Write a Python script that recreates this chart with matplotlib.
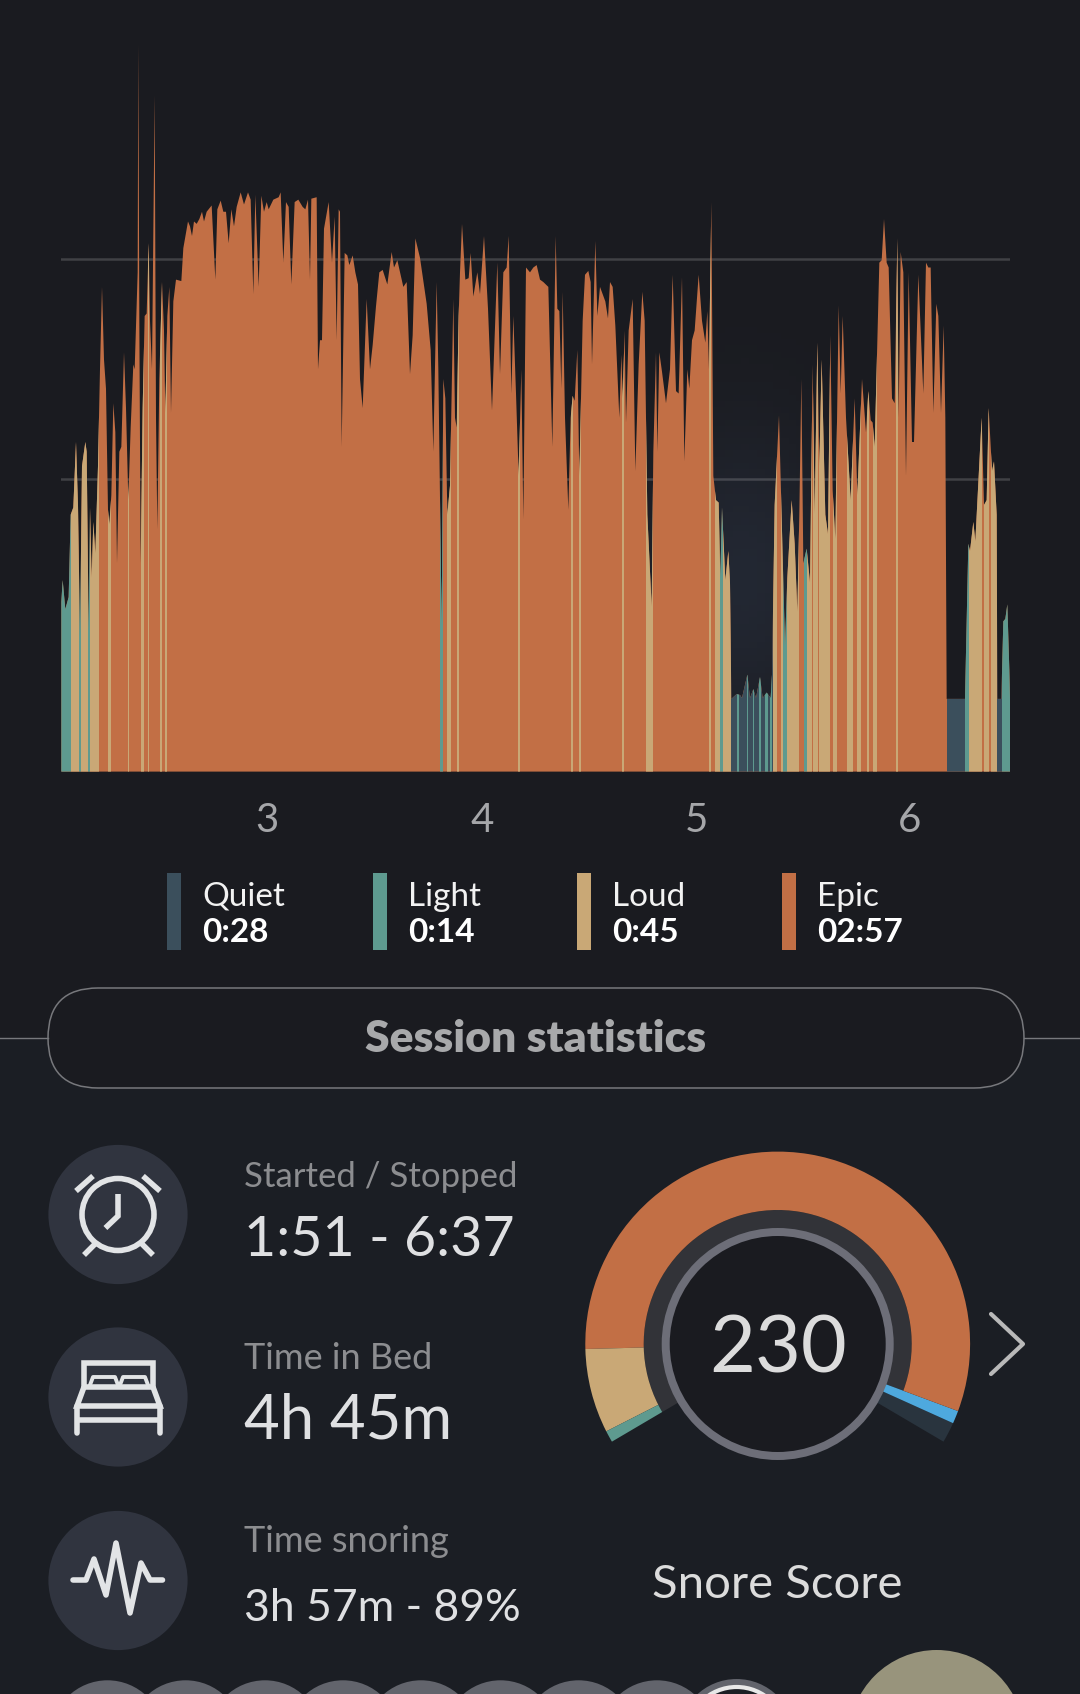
#!/usr/bin/env python3
"""Snore session screen: loudness chart, legend, session statistics and score gauge."""

import numpy as np
import matplotlib
matplotlib.use('Agg')
import matplotlib.pyplot as plt
from matplotlib.patches import Circle, Wedge, Rectangle, FancyBboxPatch

plt.rcParams['font.family'] = ['Lato', 'DejaVu Sans']

W, H = 1080, 1694

BG_TOP = '#1a1b20'
BG_BOTTOM = '#1b1e24'
QUIET = '#3b4f5c'
LIGHT = '#5e9a8f'
LOUD = '#c9a876'
EPIC = '#c26f45'
COLORS = {'Q': QUIET, 'L': LIGHT, 'D': LOUD}

# chart scale: sample columns, top = distance below chart top
CHART_TOP = 1530
SPLIT = 1500

left_x = [64, 68, 76, 86, 92, 100, 108, 114, 120, 126, 136, 140, 146, 150, 155, 160, 166, 174, 180, 186,
          192, 198, 204, 208, 214, 220, 226, 231, 238, 244, 252, 258, 265, 272, 280, 284, 293, 295, 298, 302,
          308, 314, 320, 326, 330, 336, 344, 348, 352, 358, 366, 372, 376, 382, 388, 393, 400, 408, 424, 430,
          444, 450, 456, 462, 470, 478, 486, 492, 500, 515, 526, 532, 542, 550, 558, 566, 574, 582, 590, 602,
          612, 624, 632, 640, 646, 656, 664, 672, 680, 686, 700, 716, 722, 730, 738, 746, 754, 764, 775, 788,
          796, 804, 810, 814, 830, 834, 840, 846, 852, 866, 876, 884, 890, 896, 900, 905, 914, 922, 928, 938,
          946, 954, 960, 968, 980, 990, 998, 1008, 1018, 1028, 1042, 1055, 1062, 1072, 1090, 1100, 1110, 1118, 1126, 1140,
          1160, 1172, 1180, 1190, 1195, 1205, 1210, 1216, 1222, 1230, 1240, 1245, 1250, 1256, 1260, 1266, 1276, 1286, 1292, 1300,
          1312, 1320, 1332, 1344, 1356, 1372, 1380, 1390, 1400, 1406, 1414, 1420, 1428, 1436, 1444, 1450, 1458, 1470, 1480, 1490]
left_top = [1180, 1135, 1195, 1170, 1000, 985, 850, 980, 1250, 900, 850, 870, 1240, 985, 1130, 1015, 1080, 900, 700, 530,
            680, 740, 990, 1020, 960, 770, 830, 1100, 870, 860, 665, 780, 970, 820, 690, 700, 500, 30, 600, 1100,
            780, 590, 585, 440, 600, 700, 135, 800, 1030, 720, 520, 620, 790, 590, 530, 790, 560, 515, 518, 450,
            395, 405, 425, 395, 400, 390, 375, 395, 375, 362, 515, 370, 352, 375, 375, 440, 370, 405, 365, 335,
            360, 335, 350, 545, 340, 530, 342, 375, 355, 370, 350, 345, 335, 480, 355, 365, 525, 355, 350, 365,
            370, 350, 515, 348, 345, 700, 640, 640, 410, 355, 480, 385, 640, 370, 375, 860, 460, 465, 485, 465,
            500, 525, 720, 780, 555, 700, 650, 570, 500, 495, 525, 458, 490, 475, 530, 520, 710, 630, 430, 470,
            565, 660, 870, 520, 700, 1230, 720, 760, 1000, 940, 555, 800, 820, 590, 500, 400, 515, 512, 460, 550,
            500, 545, 425, 575, 785, 480, 710, 500, 490, 425, 750, 590, 750, 920, 700, 1010, 490, 500, 490, 485]

right_x = [0, 10, 25, 37, 47, 52, 58, 64, 68, 75, 85, 92, 98, 104, 112, 118, 128, 135, 145, 152,
           156, 166, 172, 180, 188, 196, 204, 210, 218, 226, 238, 244, 248, 254, 258, 266, 278, 286, 296, 307,
           314, 322, 335, 340, 348, 352, 358, 366, 378, 390, 398, 408, 416, 426, 433, 442, 448, 456, 464, 476,
           486, 496, 502, 507, 514, 520, 528, 536, 541, 546, 556, 565, 570, 574, 590, 600, 606, 622, 630, 640,
           648, 660, 668, 680, 692, 696, 704, 717, 724, 735, 742, 755, 764, 772, 778, 784, 790, 800, 810, 818,
           824, 832, 838, 845, 856, 864, 871, 878, 886, 896, 902, 908, 918, 932, 944, 952, 966, 978, 985, 992,
           998, 1004, 1018, 1025, 1032, 1040, 1046, 1056, 1064, 1072, 1076, 1082, 1090, 1098, 1106, 1116, 1122, 1135, 1150, 1158,
           1165, 1172, 1180, 1189, 1195, 1203, 1211, 1216, 1220, 1275, 1285, 1290, 1300, 1306, 1325, 1332, 1340, 1346, 1356, 1362,
           1370, 1372, 1384, 1390, 1396, 1402, 1408, 1410]
right_top = [515, 520, 530, 860, 425, 575, 580, 740, 540, 800, 990, 800, 755, 765, 660, 920, 600, 505, 497, 520,
             690, 435, 590, 530, 545, 560, 595, 520, 530, 610, 800, 670, 760, 620, 810, 620, 555, 910, 690, 540,
             600, 1000, 1190, 870, 665, 870, 665, 705, 770, 700, 505, 745, 750, 510, 890, 700, 740, 640, 620, 505,
             600, 645, 580, 700, 355, 920, 970, 975, 1130, 985, 1135, 1075, 1140, 1380, 1370, 1372, 1378, 1330, 1378, 1360,
             1378, 1335, 1378, 1367, 1378, 1330, 980, 795, 980, 1270, 1130, 970, 1060, 1200, 1000, 720, 1100, 1070, 1140, 690,
             1000, 645, 900, 680, 1000, 1040, 630, 950, 1050, 568, 750, 590, 800, 970, 760, 960, 720, 830, 745, 805,
             810, 860, 480, 475, 390, 480, 490, 760, 770, 430, 800, 458, 500, 920, 500, 850, 850, 505, 750, 480,
             490, 490, 790, 565, 590, 790, 610, 800, 1380, 1380, 1060, 1075, 1015, 1055, 800, 980, 970, 780, 910, 890,
             1000, 1380, 1380, 1220, 1215, 1185, 1320, 1380]

# non-Epic stretches of the session (the rest is Epic); later ones draw over earlier ones
quiet_start = [2074, 2720, 2872]
quiet_end = [2200, 2775, 2885]
light_start = [64, 118, 144, 1200, 2040, 2092, 2120, 2138, 2158, 2176, 2190, 2230, 2292, 2775, 2885]
light_end = [92, 124, 150, 1210, 2048, 2098, 2125, 2142, 2162, 2184, 2196, 2242, 2302, 2787, 2910]
loud_start = [92, 124, 150, 204, 264, 302, 323, 360, 374, 1222, 1250, 1434, 1592, 1618, 1745, 1818, 2008, 2026,
              2048, 2200, 2224, 2242, 2302, 2320, 2338, 2355, 2378, 2420, 2450, 2482, 2498, 2568, 2787, 2832, 2854]
loud_end = [118, 144, 176, 214, 268, 312, 328, 366, 382, 1234, 1256, 1439, 1598, 1622, 1752, 1838, 2014, 2040,
            2074, 2212, 2230, 2276, 2316, 2334, 2355, 2370, 2392, 2438, 2462, 2486, 2510, 2574, 2825, 2846, 2872]

grid_top = [473, 926]
hour_ticks = [682, 1326, 1968, 2610]
hour_labels = ['3', '4', '5', '6']

legend_names = ['Quiet', 'Light', 'Loud', 'Epic']
legend_times = ['0:28', '0:14', '0:45', '02:57']
legend_colors = [QUIET, LIGHT, LOUD, EPIC]

# gauge segments in degrees, going round from the lower right end
gauge_start = -30.5
gauge_deg = [6.2, 3.9, 201.9, 25.5, 3.5]
gauge_colors = ['#29343e', '#4ea9de', EPIC, LOUD, LIGHT]
gauge_inner = [112, 112, 134, 134, 134]

stat_titles = ['Started / Stopped', 'Time in Bed', 'Time snoring']
stat_values = ['1:51 - 6:37', '4h 45m', '3h 57m - 89%']


def axes_px(fig, x0, y0, x1, y1):
    """Axes from a pixel box given with y counted from the top."""
    return fig.add_axes([x0 / W, 1 - y1 / H, (x1 - x0) / W, (y1 - y0) / H])


fig = plt.figure(figsize=(W / 100, H / 100), dpi=100, facecolor=BG_TOP)

# page layer in pixel coordinates
ui = fig.add_axes([0, 0, 1, 1])
ui.set_xlim(0, W)
ui.set_ylim(H, 0)
ui.axis('off')
ui.add_patch(Rectangle((0, 1038), W, H - 1038, color=BG_BOTTOM, lw=0))

# chart
ax = axes_px(fig, 61.33, 30, 1010, 771.6)
ax.patch.set_alpha(0)
for s in ax.spines.values():
    s.set_visible(False)

# faint lighter patch behind the quiet gap
gy, gx = np.mgrid[0:1:120j, 0:1:120j]
glow = np.zeros((120, 120, 4))
glow[..., :3] = matplotlib.colors.to_rgb('#2a3242')
glow[..., 3] = 0.55 * np.exp(-((gx - 0.72) / 0.10) ** 2 - ((gy - 0.26) / 0.2) ** 2)
ax.imshow(glow, extent=(64, 2910, 0, CHART_TOP), origin='lower', aspect='auto', zorder=0)
ax.set_xlim(64, 2910)
ax.set_ylim(0, CHART_TOP)

for g in grid_top:
    ax.axhline(CHART_TOP - g, color='#ffffff', alpha=0.17, lw=1.8, zorder=1)

env_x = np.array(left_x + [SPLIT + v for v in right_x], dtype=float)
env_y = CHART_TOP - np.array(left_top + right_top, dtype=float)
poly_x = np.concatenate([[env_x[0]], env_x, [env_x[-1]]])
poly_y = np.concatenate([[0], env_y, [0]])
env = ax.fill(poly_x, poly_y, color=EPIC, lw=0, zorder=2)[0]

for kind, starts, ends in [('Q', quiet_start, quiet_end), ('D', loud_start, loud_end), ('L', light_start, light_end)]:
    bars = ax.bar(starts, CHART_TOP, width=np.array(ends) - np.array(starts), align='edge',
                  color=COLORS[kind], lw=0, zorder=3)
    for b in bars:
        b.set_clip_path(env)

ax.set_yticks([])
ax.set_xticks(hour_ticks)
ax.set_xticklabels(hour_labels, fontsize=29, color='#a5a6a9')
ax.tick_params(axis='x', length=0, pad=22)

# legend
for i, name in enumerate(legend_names):
    x = [167.4, 373, 577, 782][i]
    ui.add_patch(Rectangle((x, 873), 13.5, 77, color=legend_colors[i], lw=0))
    ui.text(x + 35, 906, name, fontsize=24, color='#f2f2f2', va='baseline')
    ui.text(x + 35, 942, legend_times[i], fontsize=24, color='#ffffff', va='baseline', fontweight='bold')

# session statistics pill
ui.plot([0, 48], [1038, 1038], color='#77787c', lw=1)
ui.plot([1024, W], [1038, 1038], color='#77787c', lw=1)
ui.add_patch(FancyBboxPatch((48, 988), 976, 100, boxstyle='round,pad=0,rounding_size=50',
                            fc=BG_TOP, ec='#77787c', lw=1.1))
ui.text(536, 1052, 'Session statistics', fontsize=32, fontweight='heavy', color='#a8a9ab',
        ha='center', va='baseline')

# statistics column
title_base = [1187, 1369, 1552]
title_size = [25, 26, 26]
value_base = [1256, 1438.7, 1621]
value_size = [40, 44.5, 32]
for cy in [1214.5, 1397, 1580.5]:
    ui.add_patch(Circle((118, cy), 69.6, color='#30343f', lw=0))
for i in range(3):
    ui.text(244, title_base[i], stat_titles[i], fontsize=title_size[i], color='#8c8d90', va='baseline')
    ui.text(244, value_base[i], stat_values[i], fontsize=value_size[i], color='#dfe0e2', va='baseline')

ICON = '#e2e4e6'
icon_kw = dict(color=ICON, lw=4, solid_capstyle='butt', solid_joinstyle='miter')

# alarm clock icon
ui.add_patch(Circle((118, 1214.5), 36, fill=False, ec=ICON, lw=4))
ui.plot([118, 118, 105.4], [1194, 1216, 1228], **icon_kw)
ui.plot([76, 93], [1191, 1176], **icon_kw)
ui.plot([143, 160], [1176, 1191], **icon_kw)
ui.plot([84, 96], [1255, 1243], **icon_kw)
ui.plot([141, 153], [1243, 1255], **icon_kw)

# bed icon
ui.plot([84, 84, 153, 153], [1387, 1363, 1363, 1387], **icon_kw)
ui.plot([84, 153], [1387, 1387], **icon_kw)
ui.plot([84, 77, 160, 153], [1387, 1406, 1406, 1387], **icon_kw)
ui.plot([77, 160], [1420, 1420], **icon_kw)
ui.plot([77, 77], [1406, 1433], color=ICON, lw=4, solid_capstyle='round')
ui.plot([160, 160], [1406, 1433], color=ICON, lw=4, solid_capstyle='round')
ui.plot([90, 93, 115, 118], [1385, 1377, 1377, 1385], color=ICON, lw=2.8)
ui.plot([120, 123, 145, 148], [1385, 1377, 1377, 1385], color=ICON, lw=2.8)

# pulse icon
ui.plot([73, 86, 94, 106, 116, 130, 141, 150, 162.5], [1580, 1580, 1559, 1595, 1543, 1613, 1563, 1580, 1580],
        color=ICON, lw=4, solid_capstyle='round', solid_joinstyle='round')

# gauge
gauge = axes_px(fig, 577.7, 1144, 977.7, 1544)
gauge.set_xlim(-200, 200)
gauge.set_ylim(-200, 200)
gauge.axis('off')
gauge.patch.set_alpha(0)
gauge.add_patch(Wedge((0, 0), 134, -20.4, 210.5, width=22, color='#323338', lw=0))
edges = gauge_start + np.concatenate([[0], np.cumsum(gauge_deg)])
for i in range(len(gauge_deg)):
    gauge.add_patch(Wedge((0, 0), 192.4, edges[i], edges[i + 1], width=192.4 - gauge_inner[i],
                          color=gauge_colors[i], lw=0))
gauge.add_patch(Circle((0, 0), 116, color='#6d6e78', lw=0))
gauge.add_patch(Circle((0, 0), 108, color=BG_TOP, lw=0))
gauge.text(0, -28, '230', fontsize=57, color='#dcdcdc', ha='center', va='baseline')

# chevron and score label
ui.plot([991, 1023, 991], [1314, 1344, 1374], color='#b9b9b9', lw=3, solid_capstyle='round')
ui.text(777, 1598, 'Snore Score', fontsize=34, color='#dcdcdc', ha='center', va='baseline')

# partly visible avatar row at the bottom
for cx in [107.5, 185.6, 265, 343, 421, 500.5, 578.6, 657]:
    ui.add_patch(Circle((cx, 1737), 56.7, color='#62646c', lw=0))
ui.add_patch(Circle((736.6, 1737), 58, color='#62646c', lw=0))
ui.add_patch(Circle((736.6, 1737), 50, fc='#1c1f25', ec='#e8e8e8', lw=3))
ui.add_patch(Circle((936.7, 1737.6), 87.6, color='#98947c', lw=0))

fig.savefig('out.png', dpi=100, facecolor=fig.get_facecolor())
plt.close(fig)
